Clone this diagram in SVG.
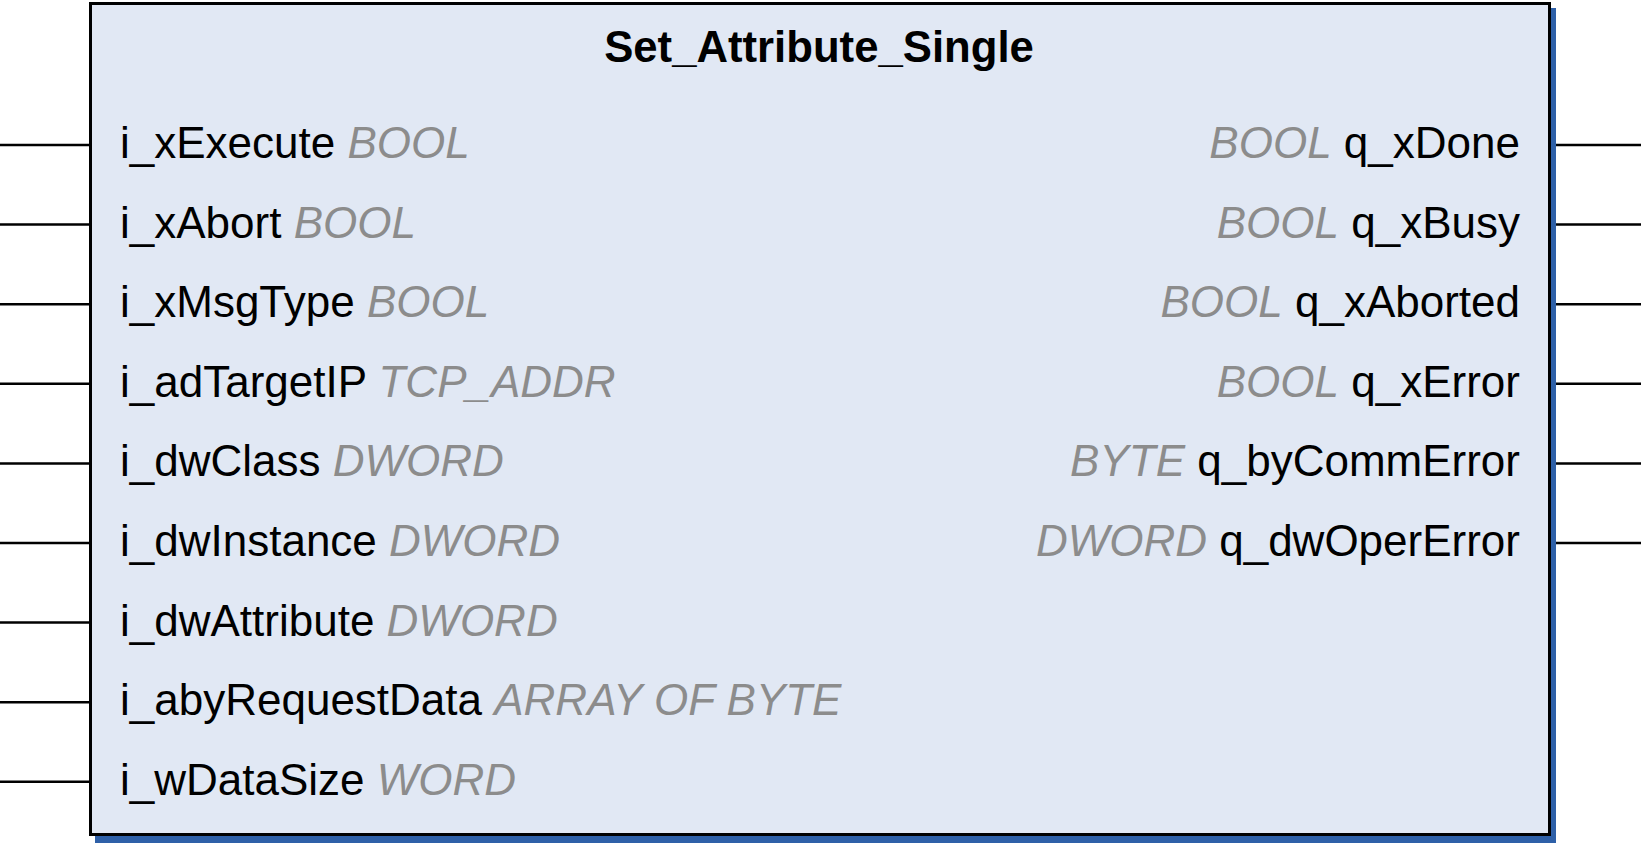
<svg xmlns="http://www.w3.org/2000/svg" width="1641" height="844" viewBox="0 0 1641 844">
<style>
.lbl{font-family:"Liberation Sans",Arial,sans-serif;font-size:44px;fill:#000}
.typ{font-style:italic;fill:#8c8c8c}
.ttl{font-family:"Liberation Sans",Arial,sans-serif;font-size:43.7px;font-weight:bold;fill:#000}
.pin{stroke:#000;stroke-width:2.5;fill:none}
</style>
<rect width="1641" height="844" fill="#fff"/>
<g id="connectors">
<line class="pin" x1="0" y1="145" x2="90" y2="145"/>
<line class="pin" x1="0" y1="224.6" x2="90" y2="224.6"/>
<line class="pin" x1="0" y1="304.2" x2="90" y2="304.2"/>
<line class="pin" x1="0" y1="383.8" x2="90" y2="383.8"/>
<line class="pin" x1="0" y1="463.4" x2="90" y2="463.4"/>
<line class="pin" x1="0" y1="543" x2="90" y2="543"/>
<line class="pin" x1="0" y1="622.6" x2="90" y2="622.6"/>
<line class="pin" x1="0" y1="702.2" x2="90" y2="702.2"/>
<line class="pin" x1="0" y1="781.8" x2="90" y2="781.8"/>
<line class="pin" x1="1550" y1="145" x2="1641" y2="145"/>
<line class="pin" x1="1550" y1="224.6" x2="1641" y2="224.6"/>
<line class="pin" x1="1550" y1="304.2" x2="1641" y2="304.2"/>
<line class="pin" x1="1550" y1="383.8" x2="1641" y2="383.8"/>
<line class="pin" x1="1550" y1="463.4" x2="1641" y2="463.4"/>
<line class="pin" x1="1550" y1="543" x2="1641" y2="543"/>
</g>
<g id="block">
<rect x="95" y="8" width="1461" height="835" fill="#2e60a8"/>
<rect x="90.5" y="3.5" width="1459" height="831" fill="#e1e8f4" stroke="#000" stroke-width="3"/>
<text class="ttl" x="819" y="62" text-anchor="middle">Set_Attribute_Single</text>
</g>
<g id="inputs">
<text class="lbl" x="120" y="158">i_xExecute <tspan class="typ">BOOL</tspan></text>
<text class="lbl" x="120" y="237.6">i_xAbort <tspan class="typ">BOOL</tspan></text>
<text class="lbl" x="120" y="317.2">i_xMsgType <tspan class="typ">BOOL</tspan></text>
<text class="lbl" x="120" y="396.8">i_adTargetIP <tspan class="typ">TCP_ADDR</tspan></text>
<text class="lbl" x="120" y="476.4">i_dwClass <tspan class="typ">DWORD</tspan></text>
<text class="lbl" x="120" y="556">i_dwInstance <tspan class="typ">DWORD</tspan></text>
<text class="lbl" x="120" y="635.6">i_dwAttribute <tspan class="typ">DWORD</tspan></text>
<text class="lbl" x="120" y="715.2">i_abyRequestData <tspan class="typ">ARRAY OF BYTE</tspan></text>
<text class="lbl" x="120" y="794.8">i_wDataSize <tspan class="typ">WORD</tspan></text>
</g>
<g id="outputs">
<text class="lbl" x="1520" y="158" text-anchor="end"><tspan class="typ">BOOL</tspan> q_xDone</text>
<text class="lbl" x="1520" y="237.6" text-anchor="end"><tspan class="typ">BOOL</tspan> q_xBusy</text>
<text class="lbl" x="1520" y="317.2" text-anchor="end"><tspan class="typ">BOOL</tspan> q_xAborted</text>
<text class="lbl" x="1520" y="396.8" text-anchor="end"><tspan class="typ">BOOL</tspan> q_xError</text>
<text class="lbl" x="1520" y="476.4" text-anchor="end"><tspan class="typ">BYTE</tspan> q_byCommError</text>
<text class="lbl" x="1520" y="556" text-anchor="end"><tspan class="typ">DWORD</tspan> q_dwOperError</text>
</g>
</svg>
